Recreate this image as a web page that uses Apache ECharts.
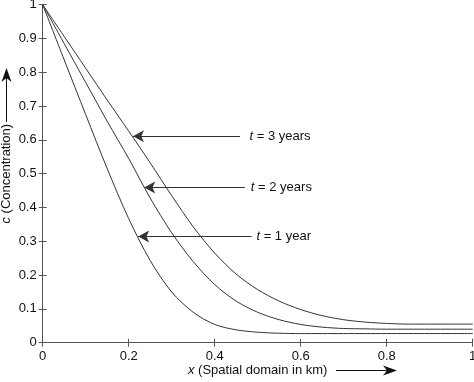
<!DOCTYPE html>
<html>
<head>
<meta charset="utf-8">
<script src="https://cdn.jsdelivr.net/npm/echarts@6/dist/echarts.min.js"></script>
<style>
html,body{margin:0;padding:0;background:#fff;}
#chart{width:474px;height:382px;}
</style>
</head>
<body>
<div id="chart"></div>
<script>
// x positions (km)
var xValues = [0, 0.05, 0.10, 0.15, 0.20, 0.25, 0.30, 0.35, 0.40, 0.45, 0.50, 0.55, 0.60, 0.65, 0.70, 0.75, 0.80, 0.85, 0.90, 0.95, 1.0];
// concentration c for t = 1 year
var cT1 = [1, 0.837, 0.675, 0.515, 0.367, 0.243, 0.150, 0.090, 0.054, 0.038, 0.031, 0.028, 0.027, 0.027, 0.027, 0.027, 0.027, 0.027, 0.027, 0.027, 0.027];
// concentration c for t = 2 years
var cT2 = [1, 0.885, 0.770, 0.655, 0.545, 0.428, 0.325, 0.240, 0.172, 0.123, 0.090, 0.068, 0.054, 0.046, 0.042, 0.041, 0.040, 0.040, 0.040, 0.040, 0.040];
// concentration c for t = 3 years
var cT3 = [1, 0.906, 0.812, 0.718, 0.626, 0.532, 0.435, 0.343, 0.265, 0.203, 0.157, 0.123, 0.098, 0.080, 0.068, 0.061, 0.057, 0.055, 0.055, 0.055, 0.055];
// annotation labels
var annoLabels = ['1 year', '2 years', '3 years'];
// arrow targets (x, c) and tails (x) for the annotations
var annoHead = [[0.222, 0.314], [0.236, 0.459], [0.210, 0.611]];
var annoTailX = [0.486, 0.470, 0.459];
var annoTextX = [0.497, 0.484, 0.481];
// tick labels
var xTicks = [0, 0.2, 0.4, 0.6, 0.8, 1];
var yTicks = [0, 0.1, 0.2, 0.3, 0.4, 0.5, 0.6, 0.7, 0.8, 0.9, 1];

var FONT = 'Liberation Sans, Arial, sans-serif';
var TEXT = '#111';
var LINE = '#333';
var AXIS = '#555';

function pairs(ys) { return xValues.map(function (x, i) { return [x, ys[i]]; }); }

function anno(i) {
  return {
    markLine: {
      silent: true,
      symbol: ['none', 'arrow'],
      symbolSize: [9, 11],
      lineStyle: { color: '#333', width: 1, type: 'solid' },
      label: { show: false },
      data: [[
        { coord: [annoTailX[i], annoHead[i][1]] },
        { coord: [annoHead[i][0], annoHead[i][1]] }
      ]]
    },
    markPoint: {
      silent: true,
      symbol: 'circle',
      symbolSize: 0,
      label: {
        show: true,
        position: 'right',
        distance: 0,
        formatter: '{i|t} = ' + annoLabels[i],
        color: TEXT,
        fontSize: 13,
        fontFamily: FONT,
        rich: { i: { fontStyle: 'italic', fontSize: 13, fontFamily: FONT, color: TEXT } }
      },
      data: [{ coord: [annoTextX[i], annoHead[i][1]] }]
    }
  };
}

var seriesData = [cT1, cT2, cT3];
var series = seriesData.map(function (d, i) {
  var s = {
    type: 'line',
    data: pairs(d),
    smooth: 0.3,
    symbol: 'none',
    lineStyle: { color: LINE, width: 1 },
    z: 3
  };
  var a = anno(i);
  s.markLine = a.markLine;
  s.markPoint = a.markPoint;
  return s;
});

var chart = echarts.init(document.getElementById('chart'), null, { renderer: 'canvas' });
var axisCommon = {
  type: 'value',
  min: 0, max: 1,
  axisLine: { show: true, lineStyle: { color: AXIS, width: 1 } },
  axisTick: { show: true, inside: true, length: 4, lineStyle: { color: AXIS } },
  splitLine: { show: false }
};
chart.setOption({
  animation: false,
  grid: { left: 42.7, right: 1.3, top: 4.7, bottom: 39.3, containLabel: false, outerBoundsMode: 'none' },
  xAxis: [
    Object.assign({}, axisCommon, {
      position: 'bottom',
      interval: 0.2,
      axisLabel: { color: TEXT, fontSize: 13, fontFamily: FONT, margin: 7, hideOverlap: false,
        formatter: function (v) { return String(+v.toFixed(1)); } },
      name: '{i|x} (Spatial domain in km)',
      nameLocation: 'middle',
      nameMoveOverlap: false,
      nameGap: 21,
      nameTextStyle: { color: TEXT, fontSize: 13, fontFamily: FONT,
        rich: { i: { fontStyle: 'italic', fontSize: 13, fontFamily: FONT, color: TEXT } } }
    }),
    Object.assign({}, axisCommon, {
      position: 'top',
      interval: 0.2,
      axisLabel: { show: false }
    })
  ],
  yAxis: [
    Object.assign({}, axisCommon, {
      position: 'left',
      interval: 0.1,
      axisLabel: { color: TEXT, fontSize: 13, fontFamily: FONT, margin: 6,
        formatter: function (v) { return String(+v.toFixed(1)); } },
      name: '{i|c} (Concentration)',
      nameLocation: 'middle',
      nameMoveOverlap: false,
      nameGap: 30,
      nameTextStyle: { color: TEXT, fontSize: 13, fontFamily: FONT,
        rich: { i: { fontStyle: 'italic', fontSize: 13, fontFamily: FONT, color: TEXT } } }
    }),
    Object.assign({}, axisCommon, {
      position: 'right',
      interval: 0.1,
      axisLabel: { show: false }
    })
  ],
  graphic: [
    { type: 'line', shape: { x1: 336, y1: 370.5, x2: 392, y2: 370.5 }, style: { stroke: '#111', lineWidth: 1 } },
    { type: 'polygon', shape: { points: [[397, 370.5], [383, 365.5], [387, 370.5], [383, 375.5]] }, style: { fill: '#111' } },
    { type: 'line', shape: { x1: 6.5, y1: 122, x2: 6.5, y2: 75 }, style: { stroke: '#111', lineWidth: 1 } },
    { type: 'polygon', shape: { points: [[6.5, 68], [1.5, 82], [6.5, 78], [11.5, 82]] }, style: { fill: '#111' } }
  ],
  series: series
});
</script>
</body>
</html>
